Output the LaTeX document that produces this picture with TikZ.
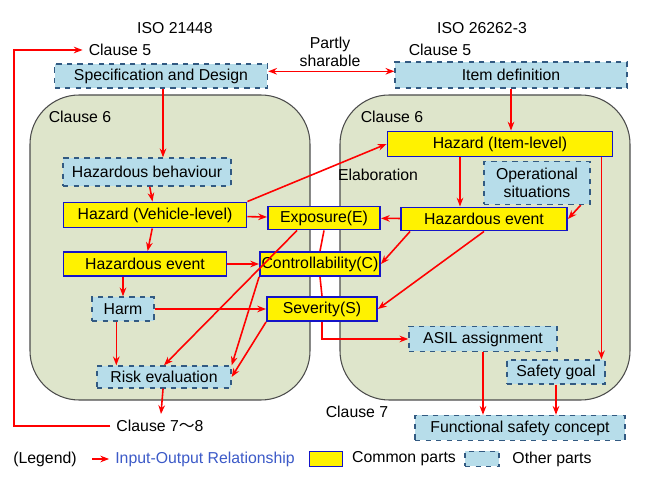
\documentclass[tikz,border=0pt]{standalone}
\usepackage{fontspec}
\setmainfont{Liberation Sans}
\newfontfamily\cjk{Noto Sans CJK JP}
\usetikzlibrary{arrows.meta}
\definecolor{panelgreen}{RGB}{222,229,203}
\definecolor{otherblue}{RGB}{183,221,234}
\definecolor{otheredge}{RGB}{50,90,130}
\definecolor{commonedge}{RGB}{20,20,200}
\definecolor{legendtext}{RGB}{60,90,200}

\begin{document}
\begin{tikzpicture}[x=0.02cm,y=-0.02cm,font=\fontsize{9}{10.5}\selectfont,
  common/.style={draw=commonedge,line width=1.1pt,fill=yellow,inner sep=0pt},
  other/.style={draw=otheredge,dashed,line width=0.8pt,fill=otherblue,inner sep=0pt},
  panel/.style={draw=black!70,fill=panelgreen,rounded corners=28pt,line width=0.6pt},
  flow/.style={-{Stealth[length=5pt]},red,line width=0.9pt}]
\useasboundingbox (0,0) rectangle (653,482);
\fill[white] (0,0) rectangle (653,482);

\draw[panel] (30,95) rectangle (310,400);
\draw[panel] (340,95) rectangle (630,400);

\begin{scope}[every node/.style={common}]
  \node[minimum width=4.5cm,minimum height=0.5cm] (HI) at (500,144) {Hazard (Item-level)};
  \node[minimum width=3.66cm,minimum height=0.5cm] (HV) at (155,215) {Hazard (Vehicle-level)};
  \node[minimum width=2.24cm,minimum height=0.46cm] (E) at (324,218) {Exposure(E)};
  \node[minimum width=3.32cm,minimum height=0.46cm] (HER) at (484,219) {Hazardous event};
  \node[minimum width=3.26cm,minimum height=0.48cm] (HEL) at (145,264) {Hazardous event};
  \node[minimum width=2.4cm,minimum height=0.48cm] (C) at (320,264) {Controllability(C)};
  \node[minimum width=2.2cm,minimum height=0.48cm] (S) at (322,309) {Severity(S)};
\end{scope}
\begin{scope}[every node/.style={other}]
  \node[minimum width=4.26cm,minimum height=0.48cm] (SD) at (161,76) {Specification and Design};
  \node[minimum width=4.64cm,minimum height=0.52cm] (ID) at (511,75) {Item definition};
  \node[minimum width=3.36cm,minimum height=0.56cm] (HB) at (147,172) {Hazardous behaviour};
  \node[minimum width=2.12cm,minimum height=0.86cm,align=center] (OS) at (537,183) {Operational\\situations};
  \node[minimum width=1.24cm,minimum height=0.48cm] (H) at (123,309) {Harm};
  \node[minimum width=2.96cm,minimum height=0.5cm] (AS) at (483,339) {ASIL assignment};
  \node[minimum width=1.96cm,minimum height=0.48cm] (SG) at (556,372) {Safety goal};
  \node[minimum width=2.68cm,minimum height=0.44cm] (RE) at (164,377) {Risk evaluation};
  \node[minimum width=4.2cm,minimum height=0.5cm] (FSC) at (520,428) {Functional safety concept};
\end{scope}

\node (T1) at (175,28) {ISO 21448};
\node (T2) at (482,28) {ISO 26262-3};
\node (C5L) at (120,50) {Clause 5};
\node (C5R) at (440,50) {Clause 5};
\node[align=center] (PS) at (330,52) {Partly\\sharable};
\node (C6L) at (80,117) {Clause 6};
\node (C6R) at (392,117) {Clause 6};
\node (EL) at (378,175) {Elaboration};
\node (C78) at (160,426) {Clause 7{\cjk ～}8};
\node (C7) at (357,412) {Clause 7};
\coordinate (LB) at (14,426);

% left chain
\draw[flow] (SD.south -| 163,0) -- (HB.north -| 163,0);
\draw[flow] (HB) -- (HV);
\draw[flow] (HV) -- (HEL);
\draw[flow] (HEL.south -| H) -- (H);
\draw[flow] (H.south west) ++(25,0) coordinate (h1) -- (h1 |- RE.north);
\draw[flow] (RE) -- (C78);
\draw[flow] (C78.west) -- (LB) |- (C5L.west);
\draw[{Stealth[length=5pt]}-{Stealth[length=5pt]},red,line width=0.9pt] (SD.north east) ++(0,8) coordinate (s1) -- (s1 -| ID.west);
% cross links
\draw[flow] (HV.north east) -- (HI.west);
\draw[flow] (HV) -- (E);
\draw[flow] (HEL) -- (C);
\draw[flow] (H) -- (S);
\draw[flow] (E.south west) ++(30,0) -- (RE.north);
\draw[flow] (C.south west) -- (RE.north east);
\draw[flow] (S.south west) -- (RE.east);
% right chain
\draw[flow] (ID) -- (HI.north -| ID);
\draw[flow] (HI.south -| 460,0) -- (HER.north -| 460,0);
\draw[flow] (OS.south east) ++(-10,0) -- (HER.east);
\draw[flow] (HER) -- (E);
\draw[flow] (HER.south west) ++(10,0) -- (C.east);
\draw[flow] (HER.south) -- (S.east);
\draw[red,line width=0.9pt] (E.south) -- (C.north);
\draw[red,line width=0.9pt] (C.south) -- (S.north);
\draw[flow] (S.south) |- (AS.west);
\draw[flow] (HI.south east) ++(-12,0) coordinate (h2) -- (h2 |- SG.north);
\draw[flow] (AS) -- (AS |- FSC.north);
\draw[flow] (SG) -- (SG |- FSC.north);

% legend
\node (LG) at (45,459) {(Legend)};
\coordinate (LA) at (92,459);
\node[text=legendtext] (LT) at (205,459) {Input-Output Relationship};
\draw[flow] (LA) -- (LT.west);
\node[common,minimum width=0.66cm,minimum height=0.3cm] (LY) at (326,459) {};
\node (LC) at (404,459) {Common parts};
\node[other,minimum width=0.68cm,minimum height=0.3cm] (LO) at (482,459) {};
\node (LOT) at (552,459) {Other parts};
\end{tikzpicture}
\end{document}
